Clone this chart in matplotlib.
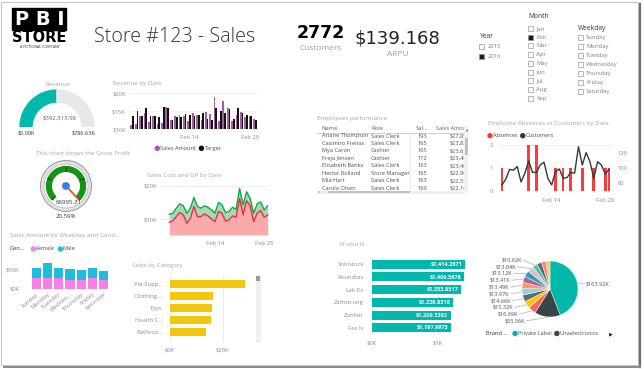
import matplotlib
matplotlib.use("Agg")
import matplotlib.pyplot as plt
import numpy as np
from matplotlib.patches import Circle, Rectangle, Wedge

plt.rcParams["font.family"] = ["Open Sans", "DejaVu Sans"]
plt.rcParams["font.size"] = 4.3

W, H = 644, 369  # canvas in pixels

# ---- data ----
DAYS = np.arange(1, 30)  # Feb 2016
SALES_K = [11.2, 11.5, 13.8, 14.5, 12.0, 13.6, 11.6, 11.8, 16.2, 12.6, 13.6, 13.9, 13.8, 12.4,
           14.4, 14.1, 12.5, 14.7, 14.3, 18.9, 12.4, 18.0, 15.8, 12.3, 14.1, 14.9, 13.3, 13.8, 12.9]
TARGET_K = [13.6, 15.1, 13.6, 16.0, 13.6, 13.6, 13.5, 16.1, 16.0, 12.6, 13.5, 13.4, 14.3, 14.1,
            13.6, 13.9, 14.6, 13.0, 12.6, 16.0, 15.2, 14.6, 15.6, 12.8, 15.8, 14.6, 14.0, 13.6, 12.7]
TOTAL_K = [11.5, 11.8, 13.3, 14.6, 14.0, 11.8, 13.3, 16.5, 13.8, 13.3, 14.0, 13.6, 12.8, 11.8,
           15.0, 14.3, 12.0, 12.3, 13.6, 13.0, 19.2, 14.3, 18.2, 16.2, 11.8, 14.6, 15.2, 12.8, 14.0]
COST_K = [9.1, 9.5, 10.8, 12.0, 11.3, 8.8, 10.3, 13.8, 10.8, 10.8, 11.6, 11.0, 10.1, 9.3,
          12.3, 11.8, 9.5, 9.8, 11.0, 10.6, 16.2, 11.3, 15.5, 14.0, 9.3, 11.8, 12.6, 10.6, 11.3]
ABSENCES = [1, 0, 0, 0, 0, 0, 0, 2, 0, 2, 0, 0, 0, 0, 1, 0, 1, 0, 1, 0, 0, 1, 0, 0, 1, 0, 0, 1, 1]
CUSTOMERS = [77, 84.5, 98, 97, 102, 81, 93, 109.5, 94, 94, 104, 108, 86, 77, 95, 98.6, 86, 87,
             94, 93, 129, 104, 121, 108.6, 86, 108.6, 104, 92, 98]

WEEKDAYS = ["Sunday", "Monday", "Tuesday", "Wednes...", "Thursday", "Friday", "Saturday"]
FEMALE_K = [28.4, 28.4, 26.7, 22.4, 22.4, 28.4, 22.4]
MALE_K = [24.2, 37.1, 27.6, 28.5, 25.9, 24.2, 24.2]

CATEGORIES = ["Pet Supp...", "Clothing ...", "Toys", "Health C...", "Bathroo..."]
CATEGORY_K = [28.5, 16.5, 16.1, 15.4, 13.7]

PRODUCTS = ["Solostock", "Roundtax", "Lab-Ex", "Zamstrong", "Zonfan", "Fax Is"]
PRODUCT_SALES = [1414.2671, 1409.5678, 1353.8517, 1229.8316, 1200.3302, 1197.9975]

BRAND_K = [163.92, 55.56, 16.69, 15.32, 14.66, 13.97, 13.49, 13.41, 13.12, 13.04, 10.62,
           10.2, 9.6, 8.7]
BRAND_COLORS = ["#01B8AA", "#374649", "#FD625E", "#F2C80F", "#5F6B6D", "#8AD4EB", "#FE9666",
                "#A66999", "#3599B8", "#DFBFBF", "#4AC5BB", "#5F6B6D", "#FB8281", "#F4D25A"]
N_LABELLED = 11

EMPLOYEES = ["Ariane Thompson", "Casimiro Freitas", "Mya Caron", "Freja Jensen",
             "Elisabeth Banks", "Hector Rolland", "Mia Hart", "Carola Olsen"]
ROLES = ["Sales Clerk", "Sales Clerk", "Cashier", "Cashier", "Sales Clerk", "Store Manager",
         "Sales Clerk", "Sales Clerk"]
EMP_COUNT = [193, 165, 165, 172, 163, 165, 163, 169]
EMP_SALES = [27851.20, 23823.60, 23612.90, 23485.10, 23409.70, 22961.30, 22530.80, 22104.50]

REVENUE, REVENUE_MAX = 392313.98, 786630.0
GP_VALUE, GP_MAX, GP_PCT = 66995.31, 66500.0, 20.59

YEARS, YEAR_SEL = ["2015", "2016"], "2016"
MONTHS, MONTH_SEL = ["Jan", "Feb", "Mar", "Apr", "May", "Jun", "Jul", "Aug", "Sep"], "Feb"
WEEKDAY_SLICER = ["Sunday", "Monday", "Tuesday", "Wednesday", "Thursday", "Friday", "Saturday"]

TITLE_C, TICK_C, TEXT_C = "#a6a6a6", "#8c8c8c", "#4d4d4d"
TEAL, DARK = "#01B8AA", "#374649"

fig = plt.figure(figsize=(W / 100, H / 100), dpi=100)
fig.patch.set_facecolor("white")
renderer = fig.canvas.get_renderer()

# full-size canvas in pixel coordinates, for text and decorations
cv = fig.add_axes([0, 0, 1, 1])
cv.set_xlim(0, W)
cv.set_ylim(H, 0)
cv.axis("off")


def px_axes(x, y, w, h):
    ax = fig.add_axes([x / W, 1 - (y + h) / H, w / W, h / H])
    ax.patch.set_alpha(0)
    for s in ax.spines.values():
        s.set_visible(False)
    ax.tick_params(length=0, colors=TICK_C, labelsize=4.2)
    return ax


def title(x, y, s, **kw):
    cv.text(x, y, s, color=TITLE_C, fontsize=4.4, va="center", **kw)


def legend_row(x, y, items, gap=3.5):
    """Power BI style legend: coloured dot + label, laid out left to right."""
    for color, label in items:
        cv.add_patch(Circle((x, y), 2.0, color=color))
        t = cv.text(x + 2.6, y, label, color=TEXT_C, fontsize=4.1, va="center")
        x += 2.6 + t.get_window_extent(renderer).width + gap + 2.0


# ---- frame ----
cv.add_patch(Rectangle((1.5, 1.5), 637, 363, fill=False, ec="#c8c8c8", lw=0.8))
cv.plot([640, 640], [4, 367], color="#707070", lw=1.6)
cv.plot([4, 640], [366.5, 366.5], color="#8a8a8a", lw=1.4)

# ---- header ----
cv.add_patch(Rectangle((12.5, 7.5), 53.5, 22, color="black"))
cv.text(39.5, 19.5, "P B I", color="white", fontsize=14, fontweight="bold",
        ha="center", va="center", family="DejaVu Sans")
cv.text(39.5, 37.5, "STORE", color="black", fontsize=10.5, fontweight="bold",
        ha="center", va="center", family="DejaVu Sans")
cv.text(39.5, 46.5, "A FICTIONAL COMPANY", color="#333333", fontsize=2.6,
        ha="center", va="center")
cv.text(94, 37, "Store #123 - Sales", color="#333333", fontsize=14.2, fontweight="light",
        ha="left", va="center")

cv.text(320.5, 33, "2772", color="black", fontsize=12.5, fontweight="bold", ha="center",
        va="center", family="Liberation Sans Narrow")
cv.text(320.5, 49, "Customers", color="#a0a0a0", fontsize=6, ha="center", va="center")
cv.text(397.5, 39, "$139.168", color="#222222", fontsize=13, ha="center", va="center",
        family="Liberation Sans Narrow")
cv.text(397.5, 54, "ARPU", color="#a0a0a0", fontsize=6, ha="center", va="center")


def slicer(x, y0, head_y, head, items, sel, step):
    cv.text(x, head_y, head, color="#333333", fontsize=4.8, va="center")
    for i, item in enumerate(items):
        yy = y0 + i * step
        cv.add_patch(Rectangle((x, yy - 2.5), 5, 5, fc="#1a1a1a" if item == sel else "white",
                               ec="#9a9a9a", lw=0.5))
        cv.text(x + 8, yy, item, color="#808080", fontsize=4.2, va="center")


slicer(479.5, 46, 36, "Year", YEARS, YEAR_SEL, 10)
slicer(528.5, 28.3, 16, "Month", MONTHS, MONTH_SEL, 8.75)
slicer(578, 37.7, 28.3, "Weekday", WEEKDAY_SLICER, None, 8.9)

# ---- Revenue gauge ----
title(57.5, 85, "Revenue", ha="center")
ax = px_axes(17, 87, 80, 40)
ax.set_xlim(-40, 40)
ax.set_ylim(0, 40)
ax.axis("off")
split = 180 - 180 * REVENUE / REVENUE_MAX
ax.add_patch(Wedge((0, 0), 37, split, 180, width=12, color=TEAL))
ax.add_patch(Wedge((0, 0), 37, 0, split, width=12, color="#E8E8E8"))
ax.text(3, 9, f"${REVENUE:,.2f}", color="#606060", fontsize=4.3, ha="center", va="center")
ax.text(-30.5, -6, "$0.00K", color="#333333", fontsize=4, ha="center", va="center",
        clip_on=False)
ax.text(27, -6, f"${REVENUE_MAX / 1000:.2f}K", color="#333333", fontsize=4, ha="center",
        va="center", clip_on=False)

# ---- Revenue by Date ----
title(113, 83, "Revenue by Date")
ax = px_axes(130, 91.5, 127, 37.8)
ax.set_xlim(0.5, 29.5)
ax.set_ylim(10, 20.5)
ax.bar(DAYS - 0.2, np.array(SALES_K) - 10, 0.4, bottom=10, color="#A85DA0")
ax.bar(DAYS + 0.2, np.array(TARGET_K) - 10, 0.4, bottom=10, color="#111111")
ax.set_yticks([10, 15, 20], ["$10K", "$15K", "$20K"])
ax.set_xticks([14, 28], ["Feb 14", "Feb 28"])
ax.tick_params(axis="y", pad=3)
ax.tick_params(axis="x", pad=4)
ax.grid(axis="y", color="#eeeeee", lw=0.6)
ax.set_axisbelow(True)
legend_row(157.3, 148.3, [("#A85DA0", "Sales Amount"), ("#111111", "Target")])

# ---- Gross profit dial ----
title(82.7, 153.3, "This chart shows the Gross Profit", ha="center")
ax = px_axes(36, 156, 60, 60)
ax.set_xlim(-30, 30)
ax.set_ylim(-30, 30)
ax.axis("off")
ax.add_patch(Circle((0, 0), 25.5, fc="#e2e2e2", ec="#9a9a9a", lw=0.7))
ax.add_patch(Circle((0, 0), 22, fc="white", ec="#b5b5b5", lw=0.5))
ax.add_patch(Wedge((0, 0), 19.5, -45, 225, width=4.8, color="#129612"))
for a in np.linspace(225, -45, 5):
    r = np.radians(a)
    ax.plot([15.5 * np.cos(r), 19.5 * np.cos(r)], [15.5 * np.sin(r), 19.5 * np.sin(r)],
            color="#1a3a1a", lw=0.7)
needle = np.radians(225 - 270 * GP_VALUE / GP_MAX)
ax.plot([-4 * np.cos(needle), 19 * np.cos(needle)], [-4 * np.sin(needle), 19 * np.sin(needle)],
        color="#E8562A", lw=1.3, solid_capstyle="butt")
ax.add_patch(Circle((0, 0), 3.2, color="#3C7DDC", zorder=3))
ax.text(3, -16.5, f"{GP_VALUE:.2f}", color="#333333", fontsize=4.4, ha="center", va="center")
ax.text(0, -30.5, f"{GP_PCT:.2f}%", color="#333333", fontsize=4.4, ha="center", va="center",
        clip_on=False)

# ---- Sales Cost and GP by Date ----
title(146.7, 176, "Sales Cost and GP by Date")
ax = px_axes(160, 183, 109, 52)
ax.set_xlim(-1.65, 29.37)
ax.set_ylim(5.33, 20.8)
ax.fill_between(DAYS, 5.33, COST_K, color="#F8AAAD", lw=0)
ax.fill_between(DAYS, COST_K, TOTAL_K, color="#A3D9B5", lw=0)
ax.plot(DAYS, TOTAL_K, color="#16A34A", lw=1.0)
ax.plot(DAYS, COST_K, color="#E8303A", lw=1.0)
ax.set_yticks([10, 20], ["$10K", "$20K"])
ax.set_xticks([14, 28], ["Feb 14", "Feb 28"])
ax.tick_params(axis="y", pad=2)
ax.tick_params(axis="x", pad=4)
ax.grid(axis="y", color="#eeeeee", lw=0.6)
ax.set_axisbelow(True)

# ---- Employees performance table ----
title(316.7, 118.3, "Employees performance")
tb = px_axes(316, 124, 148, 67)
tb.set_xlim(316, 464)
tb.set_ylim(191, 124)
tb.axis("off")
tb.plot([317, 464], [132.5, 132.5], color="#c8c8c8", lw=0.6)
tb.plot([409.5, 409.5], [132.5, 191], color="#e4e4e4", lw=0.5)
head = dict(color="#606060", fontsize=4.2, va="center", clip_on=True)
tb.text(321.7, 128.5, "Name", **head)
tb.text(371, 128.5, "Role", **head)
tb.text(416, 128.5, "Sal...", **head)
tb.text(436.5, 128.5, "Sales Amou", color="#606060", fontsize=4.0, va="center", clip_on=True)
for i in range(len(EMPLOYEES)):
    yy = 136 + i * 7.45
    cell = dict(color="#505050", fontsize=4.1, va="center", clip_on=True)
    tb.text(321.7, yy, EMPLOYEES[i], **cell)
    tb.text(371, yy, ROLES[i], **cell)
    tb.text(427.5, yy, str(EMP_COUNT[i]), ha="right", **cell)
    tb.text(449.3, yy, f"${EMP_SALES[i]:,.2f}", **cell)
# scrollbars
cv.add_patch(Rectangle((464.5, 126), 4, 65, color="#f0f0f0", lw=0))
cv.add_patch(Rectangle((464.8, 138), 3.4, 17, color="#c2c2c2", lw=0))
cv.text(467.0, 130.5, "\u25b2", color="#606060", fontsize=2.2, ha="center", va="center",
        family="DejaVu Sans")
cv.add_patch(Rectangle((317, 190.5), 148, 3.2, color="#f0f0f0", lw=0))
cv.add_patch(Rectangle((328, 190.8), 82, 2.6, color="#c2c2c2", lw=0))
cv.text(319.5, 192.1, "<", color="#606060", fontsize=3.5, ha="center", va="center")

# ---- Employee absences vs customers ----
title(487.7, 123.3, "Employee Absences vs Customers by Date")
legend_row(490, 135.7, [("#FD3B3B", "Absences"), ("#2F3B3D", "Customers")])
ax = px_axes(500, 145, 111, 45.7)
ax.set_xlim(0.5, 29.5)
ax.set_ylim(0, 2.02)
ax.bar(DAYS, ABSENCES, 0.7, color="#FD3B3B")
ax.set_yticks([0, 1, 2], ["0", "1", "2"])
ax.set_xticks([14, 28], ["Feb 14", "Feb 28"])
ax.tick_params(axis="y", pad=5)
ax.tick_params(axis="x", pad=5)
ax.grid(axis="y", color="#eeeeee", lw=0.6)
ax.set_axisbelow(True)
ax2 = ax.twinx()
for s in ax2.spines.values():
    s.set_visible(False)
ax2.set_ylim(69.1, 131.3)
ax2.plot(DAYS, CUSTOMERS, color="#2F3B3D", lw=1.0)
ax2.set_yticks([80, 100, 120], ["80", "100", "120"])
ax2.tick_params(length=0, colors=TICK_C, labelsize=4.2, pad=5)

# ---- Sales Amount by Weekday and Gender ----
title(10, 236, "Sales Amount by Weekday and Gend...")
cv.text(10, 249, "Gen...", color="#333333", fontsize=4.1, va="center")
legend_row(33.3, 249, [("#F77FE6", "Female"), ("#1EBDE0", "Male")])
ax = px_axes(28, 262, 84, 26.7)
x = np.arange(len(WEEKDAYS))
ax.set_xlim(-0.72, 6.72)
ax.set_ylim(0, 68.8)
ax.bar(x, FEMALE_K, 0.8, color="#F77FE6")
ax.bar(x, MALE_K, 0.8, bottom=FEMALE_K, color="#1EBDE0")
ax.axhline(0, color="#c8c8c8", lw=0.6)
ax.set_yticks([0, 50], ["$0K", "$50K"])
ax.set_xticks(x, WEEKDAYS, rotation=40, ha="right", rotation_mode="anchor")
ax.tick_params(axis="y", pad=6)
ax.tick_params(axis="x", pad=2, labelsize=4.3)

# ---- Sales by Category ----
title(132.3, 265.3, "Sales by Category")
ax = px_axes(170, 275, 84, 67)
ax.set_xlim(0, 31.9)
ax.set_ylim(4.8, -0.72)
ax.barh(np.arange(len(CATEGORIES)), CATEGORY_K, 0.63, color="#F2C80F")
ax.set_yticks(np.arange(len(CATEGORIES)), CATEGORIES)
ax.set_xticks([0, 20], ["$0K", "$20K"])
ax.tick_params(axis="y", pad=5)
ax.tick_params(axis="x", pad=4)
ax.grid(axis="x", color="#e6e6e6", lw=0.6)
ax.set_axisbelow(True)
cv.add_patch(Rectangle((256, 275), 4.7, 67.5, color="#f0f0f0", lw=0))
cv.add_patch(Rectangle((256.5, 275.5), 3.7, 5, color="#9a9a9a", lw=0))

# ---- Products ----
title(339.3, 245, "Products")
ax = px_axes(372, 257, 98, 78)
ax.set_xlim(0, 1494)
ax.set_ylim(5.576, -0.576)
yy = np.arange(len(PRODUCTS))
ax.barh(yy, PRODUCT_SALES, 0.71, color=TEAL)
for yi, v in zip(yy, PRODUCT_SALES):
    ax.text(v - 40, yi, f"${v:,.4f}", color="white", fontsize=4.0, fontweight="bold",
            ha="right", va="center")
ax.set_yticks(yy, PRODUCTS)
ax.set_xticks([0, 1000], ["$0K", "$1K"])
ax.tick_params(axis="y", pad=6)
ax.tick_params(axis="x", pad=4)
ax.grid(axis="x", color="#e6e6e6", lw=0.6)
ax.set_axisbelow(True)

# ---- Brand pie ----
pc = (550, 289)
pr = 28
ax = px_axes(pc[0] - pr, pc[1] - pr, 2 * pr, 2 * pr)
ax.pie(BRAND_K, colors=BRAND_COLORS, startangle=90, counterclock=False, radius=1,
       wedgeprops=dict(lw=0.3, ec="white"))
ax.set_xlim(-1, 1)
ax.set_ylim(-1, 1)
ax.axis("off")
total = sum(BRAND_K)
cum = np.cumsum(BRAND_K) - np.array(BRAND_K) / 2
mids = np.radians(90 - 360 * cum / total)
# right-hand label for the dominant slice
a = mids[0]
ax.plot([1.02 * np.cos(a), 1.22], [1.02 * np.sin(a), np.sin(a)], color="#b0b0b0", lw=0.5,
        clip_on=False)
ax.text(1.28, np.sin(a), f"${BRAND_K[0]:.2f}K", color="#505050", fontsize=4.0, va="center",
        clip_on=False)
# left-hand stack
left = list(range(1, N_LABELLED))
ys = np.linspace(-1.14, 1.04, len(left))
for i, yl in zip(left, ys):
    xl = -np.sqrt(max(1.45 ** 2 - yl ** 2, 0.88 ** 2))
    a = mids[i]
    ax.plot([xl + 0.04, 1.02 * np.cos(a)], [yl, 1.02 * np.sin(a)], color="#b0b0b0", lw=0.5,
            clip_on=False)
    ax.text(xl, yl, f"${BRAND_K[i]:.2f}K", color="#505050", fontsize=4.0, ha="right",
            va="center", clip_on=False)
cv.text(486, 333.5, "Brand ...", color="#333333", fontsize=4.1, va="center")
legend_row(515, 333.5, [(TEAL, "Private Label"), (DARK, "Unaelectronics")])
cv.text(611, 333.5, "\u25b6", color="#222222", fontsize=3.5, ha="center", va="center",
        family="DejaVu Sans")

fig.savefig("out.png", dpi=100, facecolor="white")
